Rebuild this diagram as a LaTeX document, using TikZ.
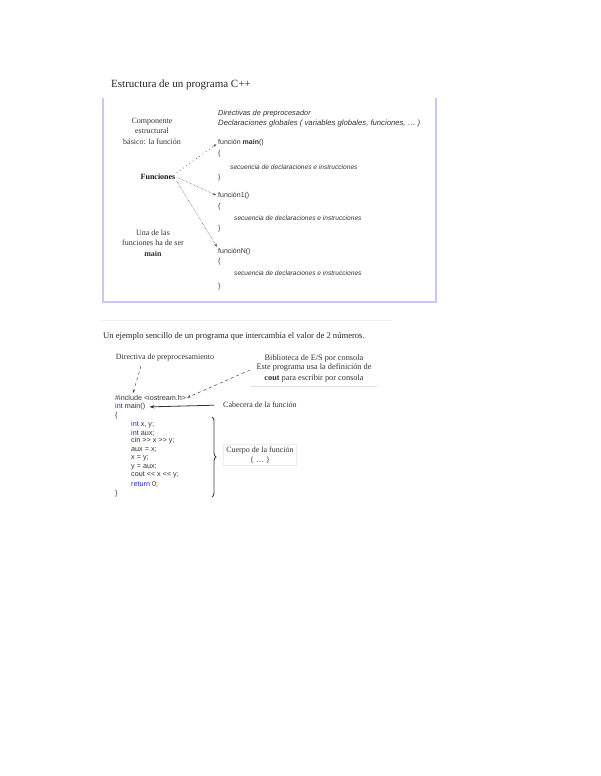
\documentclass[tikz,border=0pt]{standalone}
\usepackage{fontspec}
\setmainfont{Liberation Serif}
\newfontfamily\sansf{Liberation Sans}
\usetikzlibrary{arrows.meta,decorations.pathreplacing}
\definecolor{boxc}{RGB}{200,200,245}
\definecolor{kwblue}{RGB}{40,40,210}
\begin{document}
\begin{tikzpicture}[x=1pt,y=-1pt,
  ttl/.style={font=\fontsize{11}{13}\selectfont, text=black!85, anchor=west, inner sep=0pt},
  lbl/.style={font=\fontsize{8}{10.5}\selectfont, text=black!80, align=center, inner sep=1pt},
  rt/.style={font=\sansf\fontsize{7}{8}\selectfont, text=black!80, anchor=west, inner sep=0pt},
  seq/.style={rt, font=\sansf\itshape\fontsize{6.6}{8}\selectfont},
  code/.style={font=\sansf\fontsize{7.2}{8.5}\selectfont, text=black!80, anchor=west, inner sep=0pt},
  dotarr/.style={densely dotted, -{Stealth[length=3.5pt,width=2.5pt]}, black!70, line width=0.5pt, shorten >=2pt},
  dasharr/.style={dashed, -{Stealth[length=3.5pt,width=2.5pt]}, black!75, line width=0.5pt},
  solarr/.style={-{Stealth[length=5pt,width=3.5pt]}, black!80, line width=0.8pt}
]
\useasboundingbox (0,0) rectangle (600,776);
\fill[white] (0,0) rectangle (600,776);

% ---------- upper panel ----------
\node[ttl] (t1) at (111,85) {Estructura de un programa C++};
\draw[boxc, line width=1.3pt] (103,98) -- (103,302) -- (436,302) -- (436,98);

\node[rt, font=\sansf\itshape\fontsize{7.4}{8}\selectfont] (dir) at (218,114) {Directivas de preprocesador};
\node[rt, font=\sansf\itshape\fontsize{7.7}{8}\selectfont] (dec) at (218,124) {Declaraciones globales ( variables globales, funciones, … )};
\node[rt] (fm) at (218,143) {función \textbf{main}()};
\node[rt] (fmo) at (218,154) {\{};
\node[seq] (fms) at (230,167) {secuencia de declaraciones e instrucciones};
\node[rt] (fmc) at (218,178) {\}};
\node[rt] (f1) at (218,196) {función1()};
\node[rt] (f1o) at (218,207) {\{};
\node[seq] (f1s) at (234,218) {secuencia de declaraciones e instrucciones};
\node[rt] (f1c) at (218,229) {\}};
\node[rt] (fn) at (218,252) {funciónN()};
\node[rt] (fno) at (218,262) {\{};
\node[seq] (fns) at (234,273) {secuencia de declaraciones e instrucciones};
\node[rt] (fnc) at (218,287) {\}};

\node[lbl] (comp) at (152,131) {Componente\\estructural\\básico: la función};
\node[lbl, font=\bfseries\fontsize{8}{10}\selectfont, text=black!90] (fun) at (158,177) {Funciones};
\node[lbl] (una) at (153,243) {Una de las\\funciones ha de ser\\\textbf{main}};

\draw[dotarr, dash pattern=on 1pt off 3pt] (fun.north east) -- (fm.west);
\draw[dotarr] (fun.east) -- (f1.west);
\draw[dotarr] (fun.south east) -- (fn.north west);

% ---------- lower panel ----------
\draw[black!6, line width=0.8pt] (100,320) -- (392,320);
\node[ttl, font=\fontsize{8.6}{11}\selectfont] (t2) at (103,336) {Un ejemplo sencillo de un programa que intercambia el valor de 2 números.};

\node[lbl] (dpp) at (165,358) {Directiva de preprocesamiento};
\node[lbl, font=\fontsize{8.3}{10}\selectfont] (bib) at (314,368) {Biblioteca de E/S por consola\\Este programa usa la definición de\\\textbf{cout} para escribir por consola};
\draw[black!12, line width=0.6pt] (250,386) -- (377,386);

\node[code] (inc) at (115,398) {\#include <iostream.h>};
\node[code] (mn) at (115,407) {\textcolor{kwblue}{int} main()};
\node[code] (ob) at (115,416) {\{};
\node[code] (l1) at (131,425) {\textcolor{kwblue}{int} x, y;};
\node[code] (l2) at (131,433) {\textcolor{kwblue}{int} aux;};
\node[code] (l3) at (131,441) {cin >{}> x >{}> y;};
\node[code] (l4) at (131,450) {aux = x;};
\node[code] (l5) at (131,458) {x = y;};
\node[code] (l6) at (131,467) {y = aux;};
\node[code] (l7) at (131,475) {cout <{}< x <{}< y;};
\node[code] (l8) at (131,484) {\textcolor{kwblue}{return} 0;};
\node[code] (cb) at (115,494) {\}};

\node[lbl, anchor=west] (cab) at (222,405) {Cabecera de la función};
\node[lbl, draw=black!7, line width=0.6pt, inner xsep=3pt, inner ysep=2pt] (cue) at (260,455) {Cuerpo de la función\\\{ … \}};

\draw[decorate, decoration={brace, amplitude=4pt}, line width=0.9pt, black!75] (212,417) -- (212,497);

\coordinate (d1) at (141,366);
\coordinate (b1) at (250,370);
\draw[dasharr] (d1) -- (133,393);
\draw[dasharr, shorten >=1pt] (b1) -- (inc.east);
\draw[solarr, shorten <=8pt, shorten >=4pt] (cab.west) -- (mn.east);
\end{tikzpicture}
\end{document}
